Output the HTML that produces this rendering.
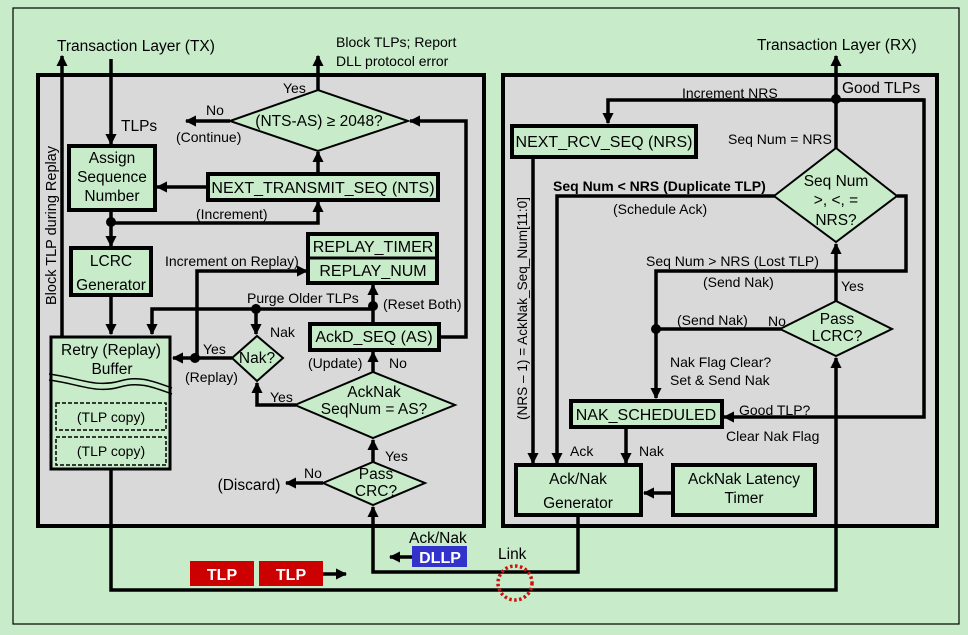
<!DOCTYPE html>
<html><head><meta charset="utf-8"><style>
html,body{margin:0;padding:0;background:#c8ecca;}
svg{display:block;font-family:"Liberation Sans",Arial,sans-serif;}
</style></head><body>
<svg width="968" height="635" viewBox="0 0 968 635" xmlns="http://www.w3.org/2000/svg">
<defs>
<marker id="a" viewBox="0 0 10 10" refX="9" refY="5" markerWidth="3.2" markerHeight="3.2" orient="auto-start-reverse" markerUnits="strokeWidth">
<path d="M0,0 L10,5 L0,10 z" fill="#000"/></marker>
</defs>
<rect width="968" height="635" fill="#c8ecca"/>
<rect x="13" y="8" width="946" height="616" fill="none" stroke="#000" stroke-width="1.2"/>
<rect x="38" y="75" width="446" height="451" fill="#d9d9d9" stroke="#000" stroke-width="4"/>
<rect x="503" y="75" width="434" height="451" fill="#d9d9d9" stroke="#000" stroke-width="4"/>

<g stroke="#000" stroke-width="3.5" fill="none">
<line x1="62" y1="336" x2="62" y2="56" marker-end="url(#a)"/>
<line x1="111" y1="59" x2="111" y2="144" marker-end="url(#a)"/>
<line x1="207" y1="187" x2="157" y2="187" marker-end="url(#a)"/>
<line x1="318" y1="173" x2="318" y2="152" marker-end="url(#a)"/>
<line x1="318" y1="90" x2="318" y2="56" marker-end="url(#a)"/>
<line x1="230" y1="121" x2="186" y2="121" marker-end="url(#a)"/>
<polyline points="440,337 466,337 466,121 410,121" marker-end="url(#a)"/>
<polyline points="111,211 111,223 318,223 318,202" marker-end="url(#a)"/>
<line x1="111" y1="223" x2="111" y2="246" marker-end="url(#a)"/>
<line x1="111" y1="296" x2="111" y2="334" marker-end="url(#a)"/>
<polyline points="195,358 197,358 197,271 307,271" marker-end="url(#a)"/>
<polyline points="373,309 152,309 152,334" marker-end="url(#a)"/>
<line x1="256" y1="309" x2="256" y2="334" marker-end="url(#a)"/>
<line x1="373" y1="323" x2="373" y2="285" marker-end="url(#a)"/>
<line x1="232" y1="358" x2="173" y2="358" marker-end="url(#a)"/>
<polyline points="296,405 257,405 257,383" marker-end="url(#a)"/>
<line x1="373" y1="372" x2="373" y2="352" marker-end="url(#a)"/>
<line x1="373" y1="462" x2="373" y2="440" marker-end="url(#a)"/>
<line x1="323" y1="483" x2="286" y2="483" marker-end="url(#a)"/>
<polyline points="578,516 578,572 373,572 373,507" marker-end="url(#a)"/>
<polyline points="111,469 111,590 836,590 836,358" marker-end="url(#a)"/>
<line x1="412" y1="557" x2="390" y2="557" marker-end="url(#a)"/>
<line x1="323" y1="574" x2="346" y2="574" marker-end="url(#a)"/>
<line x1="836" y1="148" x2="836" y2="56" marker-end="url(#a)"/>
<polyline points="924,100 924,100 608,100 608,123" marker-end="url(#a)"/>
<polyline points="836,100 924,100 924,417 724,417" marker-end="url(#a)"/>
<line x1="533" y1="158" x2="533" y2="463" marker-end="url(#a)"/>
<polyline points="775,196 557,196 557,463" marker-end="url(#a)"/>
<polyline points="897,196 906,196 906,271 656,271 656,398" marker-end="url(#a)"/>
<line x1="836" y1="301" x2="836" y2="244" marker-end="url(#a)"/>
<line x1="781" y1="329" x2="656" y2="329"/>
<line x1="626" y1="428" x2="626" y2="463" marker-end="url(#a)"/>
<line x1="672" y1="493" x2="644" y2="493" marker-end="url(#a)"/>
</g>
<g fill="#000">
<circle cx="111" cy="222" r="5"/><circle cx="195" cy="358" r="5"/>
<circle cx="256" cy="309" r="5"/><circle cx="373" cy="306" r="5"/>
<circle cx="836" cy="99" r="5"/><circle cx="656" cy="329" r="5"/>
</g>

<g fill="#c8ecca" stroke="#000" stroke-width="4">
<rect x="69" y="146" width="86" height="64"/>
<rect x="208" y="174" width="230" height="26"/>
<rect x="71" y="248" width="80" height="47"/>
<rect x="308" y="234" width="129" height="49"/>
<rect x="310" y="324" width="129" height="26"/>
<rect x="51" y="337" width="119" height="132" stroke-width="3"/>
<rect x="512" y="126" width="184" height="31"/>
<rect x="571" y="401" width="151" height="26"/>
<rect x="516" y="465" width="125" height="50"/>
<rect x="673" y="465" width="142" height="50"/>
</g>
<line x1="308" y1="258" x2="437" y2="258" stroke="#000" stroke-width="3"/>
<g fill="#c8ecca" stroke="#000" stroke-width="2">
<polygon points="230,121 318,90 408,121 318,151"/>
<polygon points="232,358 257,336 283,358 257,381"/>
<polygon points="295,405 373,372 455,405 373,438"/>
<polygon points="323,483 373,462 425,483 373,505"/>
<polygon points="774,196 836,148 897,196 836,242"/>
<polygon points="780,329 836,301 892,329 836,356"/>
</g>
<path d="M49,374 C80,378 95,388 120,381 C140,375 155,382 172,388" stroke="#000" stroke-width="1.5" fill="#c8ecca"/>
<path d="M49,380 C80,384 95,394 120,387 C140,381 155,388 172,394" stroke="#000" stroke-width="1.5" fill="none"/>
<rect x="56" y="403" width="110" height="27" fill="none" stroke="#000" stroke-width="1.5" stroke-dasharray="4,2"/>
<rect x="56" y="437" width="110" height="28" fill="none" stroke="#000" stroke-width="1.5" stroke-dasharray="4,2"/>
<rect x="190" y="561" width="64" height="25" fill="#cc0000"/>
<rect x="259" y="561" width="64" height="25" fill="#cc0000"/>
<rect x="412" y="546" width="55" height="21" fill="#3333cc"/>
<circle cx="515" cy="583" r="17" fill="none" stroke="#cc1111" stroke-width="3.5" stroke-dasharray="2.5,2.5"/>

<g font-size="15.5" fill="#000">
<text x="57" y="51">Transaction Layer (TX)</text>
<text x="757" y="50">Transaction Layer (RX)</text>
<text x="121" y="131">TLPs</text>
<text x="112" y="163" text-anchor="middle">Assign</text>
<text x="112" y="182" text-anchor="middle">Sequence</text>
<text x="112" y="201" text-anchor="middle">Number</text>
<text x="323" y="193" text-anchor="middle" font-size="16">NEXT_TRANSMIT_SEQ (NTS)</text>
<text x="319" y="126" text-anchor="middle">(NTS-AS) ≥ 2048?</text>
<text x="111" y="266" text-anchor="middle">LCRC</text>
<text x="111" y="290" text-anchor="middle">Generator</text>
<text x="373" y="252" text-anchor="middle" font-size="16">REPLAY_TIMER</text>
<text x="373" y="276" text-anchor="middle" font-size="16">REPLAY_NUM</text>
<text x="374" y="342" text-anchor="middle" font-size="16">AckD_SEQ (AS)</text>
<text x="257" y="363" text-anchor="middle">Nak?</text>
<text x="374" y="397" text-anchor="middle">AckNak</text>
<text x="374" y="414" text-anchor="middle">SeqNum = AS?</text>
<text x="376" y="479" text-anchor="middle">Pass</text>
<text x="376" y="496" text-anchor="middle">CRC?</text>
<text x="249" y="490" text-anchor="middle">(Discard)</text>
<text x="111" y="355" text-anchor="middle">Retry (Replay)</text>
<text x="112" y="374" text-anchor="middle">Buffer</text>
<text x="604" y="147" text-anchor="middle" font-size="16">NEXT_RCV_SEQ (NRS)</text>
<text x="836" y="186" text-anchor="middle">Seq Num</text>
<text x="836" y="205" text-anchor="middle">&gt;, &lt;, =</text>
<text x="836" y="225" text-anchor="middle">NRS?</text>
<text x="837" y="324" text-anchor="middle">Pass</text>
<text x="837" y="341" text-anchor="middle">LCRC?</text>
<text x="646" y="420" text-anchor="middle" font-size="16">NAK_SCHEDULED</text>
<text x="578" y="484" text-anchor="middle">Ack/Nak</text>
<text x="578" y="508" text-anchor="middle">Generator</text>
<text x="744" y="484" text-anchor="middle">AckNak Latency</text>
<text x="744" y="503" text-anchor="middle">Timer</text>
<text x="842" y="93">Good TLPs</text>
<text x="409" y="543">Ack/Nak</text>
<text x="498" y="559">Link</text>
</g>
<g font-size="14" fill="#000">
<text x="336" y="47">Block TLPs; Report</text>
<text x="336" y="66">DLL protocol error</text>
<text x="283" y="93">Yes</text>
<text x="206" y="115">No</text>
<text x="176" y="142">(Continue)</text>
<text x="196" y="219">(Increment)</text>
<text x="165" y="266">Increment on Replay)</text>
<text x="247" y="303">Purge Older TLPs</text>
<text x="383" y="309">(Reset Both)</text>
<text x="270" y="337">Nak</text>
<text x="203" y="354">Yes</text>
<text x="185" y="382">(Replay)</text>
<text x="308" y="368">(Update)</text>
<text x="389" y="368">No</text>
<text x="270" y="402">Yes</text>
<text x="385" y="461">Yes</text>
<text x="304" y="478">No</text>
<text x="111" y="422" text-anchor="middle">(TLP copy)</text>
<text x="111" y="456" text-anchor="middle">(TLP copy)</text>
<text x="682" y="98">Increment NRS</text>
<text x="728" y="144">Seq Num = NRS</text>
<text x="553" y="191" font-weight="bold">Seq Num &lt; NRS (Duplicate TLP)</text>
<text x="613" y="214">(Schedule Ack)</text>
<text x="646" y="266">Seq Num &gt; NRS (Lost TLP)</text>
<text x="703" y="287">(Send Nak)</text>
<text x="841" y="291">Yes</text>
<text x="677" y="325">(Send Nak)</text>
<text x="768" y="326">No</text>
<text x="670" y="367">Nak Flag Clear?</text>
<text x="670" y="385">Set &amp; Send Nak</text>
<text x="739" y="415">Good TLP?</text>
<text x="726" y="441">Clear Nak Flag</text>
<text x="570" y="456">Ack</text>
<text x="639" y="456">Nak</text>
</g>
<text transform="translate(56,305) rotate(-90)" font-size="14.5" fill="#000">Block TLP during Replay</text>
<text transform="translate(527,420) rotate(-90)" font-size="13.6" fill="#000">(NRS – 1) = AckNak_Seq_Num[11:0]</text>
<g font-size="16" font-weight="bold" fill="#fff" text-anchor="middle">
<text x="222" y="580">TLP</text>
<text x="291" y="580">TLP</text>
<text x="440" y="563">DLLP</text>
</g>
</svg>
</body></html>
